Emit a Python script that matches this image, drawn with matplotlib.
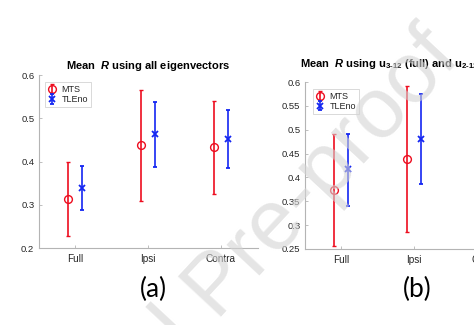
import numpy as np
import matplotlib
matplotlib.use("Agg")
import matplotlib.pyplot as plt

plt.rcParams['font.family'] = ['Liberation Sans', 'DejaVu Sans']
plt.rcParams['mathtext.fontset'] = 'custom'
plt.rcParams['mathtext.rm'] = 'Liberation Sans:bold'
plt.rcParams['mathtext.it'] = 'Liberation Sans:italic:bold'
plt.rcParams['mathtext.bf'] = 'Liberation Sans:bold'

categories = ['Full', 'Ipsi', 'Contra']

# panel (a): mean R using all eigenvectors
a_mts_mean = [0.313, 0.438, 0.433]
a_mts_low = [0.228, 0.309, 0.325]
a_mts_high = [0.400, 0.565, 0.541]
a_tle_mean = [0.339, 0.463, 0.452]
a_tle_low = [0.288, 0.388, 0.386]
a_tle_high = [0.390, 0.538, 0.518]

# panel (b): mean R using a subset of eigenvectors
b_mts_mean = [0.374, 0.439]
b_mts_low = [0.256, 0.285]
b_mts_high = [0.491, 0.592]
b_tle_mean = [0.418, 0.480]
b_tle_low = [0.340, 0.386]
b_tle_high = [0.492, 0.575]

a_yticks = [0.2, 0.3, 0.4, 0.5, 0.6]
b_yticks = [0.25, 0.3, 0.35, 0.4, 0.45, 0.5, 0.55, 0.6]

RED = (0.93, 0.05, 0.12)
BLUE = (0.08, 0.15, 0.95)
SPINE = '#b4b4b4'
TEXT = '#262626'

W, H = 474, 325
fig = plt.figure(figsize=(W / 100, H / 100), dpi=100)


def px_axes(x0, x1, y_top, y_bot):
    return fig.add_axes([x0 / W, 1 - y_bot / H, (x1 - x0) / W, (y_bot - y_top) / H])


def draw_panel(ax, mts, tle, yticks, ylim):
    n_m = len(mts[0])
    n_t = len(tle[0])
    xm = np.arange(1, n_m + 1) - 0.1
    xt = np.arange(1, n_t + 1) + 0.1
    mm, ml, mh = (np.array(v) for v in mts)
    tm, tl, th = (np.array(v) for v in tle)
    h1 = ax.errorbar(xm, mm, yerr=[mm - ml, mh - mm], fmt='o', color=RED,
                     mfc='none', mec=RED, ms=5.6, mew=1.0, elinewidth=1.2,
                     capsize=1.4, capthick=1.0, label='MTS')
    h2 = ax.errorbar(xt, tm, yerr=[tm - tl, th - tm], fmt='x', color=BLUE,
                     ms=4.0, mew=1.3, elinewidth=1.2, capsize=1.4,
                     capthick=1.0, label='TLEno')
    ax.set_xlim(0.5, 3.5)
    ax.set_ylim(*ylim)
    ax.set_xticks([1, 2, 3])
    ax.set_xticklabels(categories)
    ax.set_yticks(yticks)
    ax.set_yticklabels(['%g' % v for v in yticks])
    for s in ('top', 'right'):
        ax.spines[s].set_visible(False)
    for s in ('left', 'bottom'):
        ax.spines[s].set_color(SPINE)
        ax.spines[s].set_linewidth(0.8)
    ax.tick_params(direction='in', length=2.5, width=0.6, color=SPINE,
                   labelcolor=TEXT, labelsize=6.8, pad=3)
    ax.tick_params(axis='x', labelsize=7.2, pad=4)
    leg = ax.legend(handles=[h1, h2], loc='upper left', fontsize=6.5,
                    handlelength=0.9, handletextpad=0.6, borderpad=0.3,
                    labelspacing=0.15, frameon=True, fancybox=False,
                    bbox_to_anchor=(0.01, 0.985))
    leg.get_frame().set_edgecolor('#c8c8c8')
    leg.get_frame().set_linewidth(0.6)
    for t in leg.get_texts():
        t.set_color(TEXT)
    return ax


ax_a = px_axes(38.5, 257.5, 75, 248)
draw_panel(ax_a, (a_mts_mean, a_mts_low, a_mts_high),
           (a_tle_mean, a_tle_low, a_tle_high), a_yticks, (0.2, 0.6))

ax_b = px_axes(304.5, 523.5, 82, 249)
draw_panel(ax_b, (b_mts_mean, b_mts_low, b_mts_high),
           (b_tle_mean, b_tle_low, b_tle_high), b_yticks, (0.25, 0.6))
ax_b.legend_.set_bbox_to_anchor((0.02, 0.985))

fig.text(148 / W, 1 - 66 / H, r'Mean  $R$ using all eigenvectors',
         ha='center', va='center', fontsize=8.0, fontweight='bold', color='k')
fig.text(300 / W, 1 - 64 / H,
         r'Mean  $R$ using u$_{3\text{-}12}$ (full) and u$_{2\text{-}12}$ (ipsi/contra)',
         ha='left', va='center', fontsize=8.0, fontweight='bold', color='k')

fig.text(153 / W, 1 - 289 / H, '(a)', ha='center', va='center',
         fontsize=19, family='Lato', color='k')
fig.text(417 / W, 1 - 289 / H, '(b)', ha='center', va='center',
         fontsize=19, family='Lato', color='k')

# faint diagonal watermark
fig.text(8 / W, 1 - 546 / H, 'Journal Pre-proof', rotation=47,
         rotation_mode='anchor', ha='left', va='baseline', fontsize=62,
         color=(0.83, 0.83, 0.83), alpha=0.6, zorder=10)

fig.savefig('out.png', dpi=100)
